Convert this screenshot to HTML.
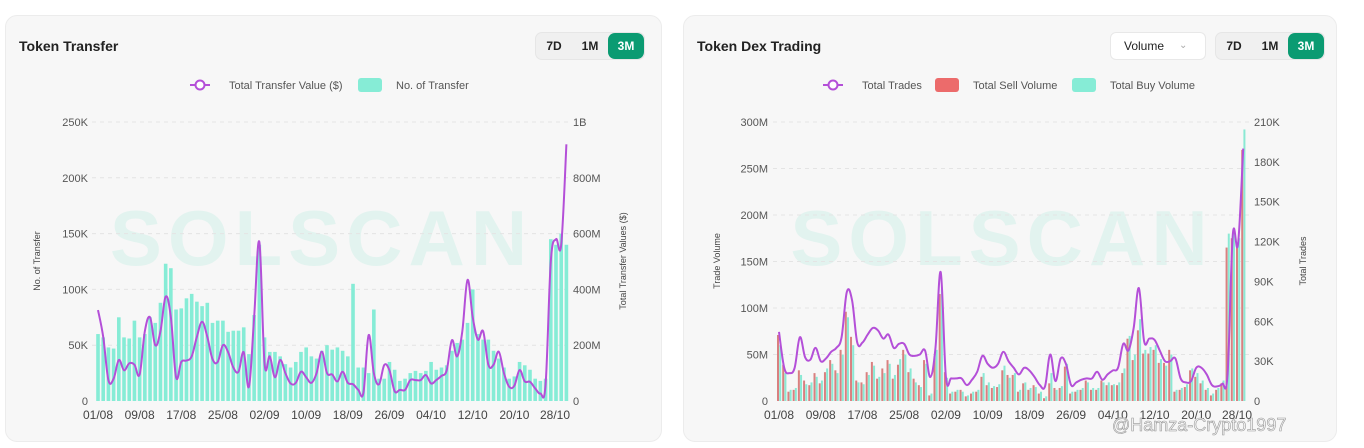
<!DOCTYPE html>
<html><head><meta charset="utf-8">
<style>
html,body{margin:0;padding:0;background:#fff;width:1364px;height:448px;overflow:hidden;font-family:"Liberation Sans",sans-serif;}
.card{position:absolute;top:15px;height:425px;background:#f7f7f7;border:1px solid #ececec;border-radius:12px;}
.title{position:absolute;top:22px;left:13px;font-size:14px;font-weight:bold;color:#222;}
.btns{position:absolute;top:16px;height:26px;display:flex;border-radius:7px;background:#f0f0f0;border:1px solid #e6e6e6;overflow:hidden;}
.btns div{width:36px;line-height:26px;text-align:center;font-size:12px;font-weight:bold;color:#222;}
.btns div.on{background:#0b9b72;color:#fff;border-radius:7px;}
.dd{position:absolute;top:16px;left:426px;width:94px;height:26px;background:#fff;border:1px solid #e8e8e8;border-radius:6px;font-size:12px;color:#222;line-height:26px;}
svg{position:absolute;left:0;top:0;}
</style></head><body>
<div class="card" style="left:5px;width:655px;">
  <div class="title">Token Transfer</div>
  <div class="btns" style="left:529px;">
    <div>7D</div>
    <div>1M</div>
    <div class="on">3M</div>
  </div>
</div>
<div class="card" style="left:683px;width:652px;">
  <div class="title">Token Dex Trading</div>
  <div class="dd"><span style="margin-left:13px">Volume</span><span style="position:absolute;left:68px;color:#aaa;font-size:10px">&#8964;</span></div>
  <div class="btns" style="left:531px;">
    <div>7D</div>
    <div>1M</div>
    <div class="on">3M</div>
  </div>
</div>
<svg id="chart" width="1364" height="448"></svg>
<script>
const dayLabels=["01/08","09/08","17/08","25/08","02/09","10/09","18/09","26/09","04/10","12/10","20/10","28/10"];
const leftTicks=["0","50K","100K","150K","200K","250K"];
const leftRightTicks=["0","200M","400M","600M","800M","1B"];
const rightTicks=["0","50M","100M","150M","200M","250M","300M"];
const rightRightTicks=["0","30K","60K","90K","120K","150K","180K","210K"];
const transferCount=[60,57,48,47,75,57,56,72,57,60,75,70,88,123,119,82,83,92,96,89,85,88,70,72,72,62,63,63,66,42,77,140,57,44,44,40,33,30,35,44,48,40,38,45,50,46,48,45,40,105,30,30,25,82,20,20,35,28,18,20,25,27,25,27,35,28,30,32,45,52,55,70,100,60,55,55,45,38,30,20,22,35,32,28,20,18,20,145,140,150,140];
const transferValue=[326,230,75,80,147,110,135,130,95,250,300,200,250,374,300,85,140,145,160,230,284,230,150,140,200,175,120,105,175,51,300,570,135,160,85,147,100,63,65,105,85,65,100,177,100,95,70,105,65,60,40,30,236,100,60,129,110,35,40,40,75,75,75,93,63,75,90,110,218,160,250,434,300,220,250,130,130,177,100,51,55,111,70,69,45,27,60,500,580,560,920];
const tradesK=[52,25,21,25,48,33,31,40,30,32,37,40,48,82,76,44,44,50,55,53,47,50,40,43,43,35,34,35,38,18,40,97,18,17,17,17,12,16,22,34,28,25,28,37,30,25,20,25,23,18,12,11,35,15,32,28,12,14,16,17,17,22,16,20,23,25,43,38,55,85,45,47,46,38,30,30,32,17,14,15,25,25,20,12,11,13,20,125,118,190];
const sellVol=[71,39,10,12,33,22,17,30,19,31,44,33,55,96,69,22,20,31,42,24,35,44,24,39,55,31,24,17,44,6,48,115,31,8,10,12,5,8,10,26,17,14,15,33,28,28,10,19,12,17,8,3,19,14,14,37,8,10,12,22,12,12,22,17,17,17,30,67,44,76,51,51,55,41,41,55,10,12,15,33,26,19,12,6,12,19,165,175,170,270];
const buyVol=[60,30,12,14,28,18,20,26,22,35,40,30,50,90,60,20,18,28,38,26,30,40,28,45,50,35,20,15,40,8,55,120,25,10,12,10,6,10,12,30,20,16,18,38,25,30,12,20,14,15,10,5,30,12,16,40,10,12,14,20,14,14,20,20,18,20,35,70,50,88,55,58,60,45,38,50,12,14,18,35,30,22,14,8,14,22,180,185,175,292];

const svg=document.getElementById('chart');
const NS='http://www.w3.org/2000/svg';
function mk(tag,attrs,parent){const e=document.createElementNS(NS,tag);for(const k in attrs)e.setAttribute(k,attrs[k]);(parent||svg).appendChild(e);return e;}
function txt(s,attrs){const e=mk('text',Object.assign({'font-size':11,fill:'#555','font-family':'Liberation Sans, sans-serif'},attrs));e.textContent=s;return e;}
function smooth(pts){let d='M'+pts[0][0]+','+pts[0][1];for(let i=0;i<pts.length-1;i++){const p0=pts[i-1]||pts[i],p1=pts[i],p2=pts[i+1],p3=pts[i+2]||p2;const t=0.18;d+=' C'+(p1[0]+(p2[0]-p0[0])*t)+','+(p1[1]+(p2[1]-p0[1])*t)+' '+(p2[0]-(p3[0]-p1[0])*t)+','+(p2[1]-(p3[1]-p1[1])*t)+' '+p2[0]+','+p2[1];}return d;}

function frame(o){
  // watermark
  const wm=txt('SOLSCAN',{x:o.x0+(o.x1-o.x0)/2-10,y:265,'font-size':78,'font-weight':'bold',fill:'#e2f3ef','text-anchor':'middle','letter-spacing':6});
  
  const n=o.lt.length;
  for(let i=0;i<n;i++){const y=o.yb-(o.yb-o.yt)*i/(n-1);
    if(i>0){const g=mk('line',{x1:o.x0-6,x2:o.x1+6,y1:y,y2:y,stroke:'#e4e4e4','stroke-dasharray':'4,4'});}
    const t=txt(o.lt[i],{x:o.lx,y:y+4,'text-anchor':'end'});}
  const m=o.rt.length;
  for(let i=0;i<m;i++){const y=o.yb-(o.yb-o.yt)*i/(m-1);const t=txt(o.rt[i],{x:o.rx,y:y+4});}
  dayLabels.forEach((s,i)=>{const x=o.xs(i*8)+(i==11?-1:0);const t=txt(s,{x:x,y:419,'text-anchor':'middle','font-size':12,fill:'#444'});});
  const a=txt(o.yl,{x:0,y:0,'font-size':9,fill:'#444','text-anchor':'middle',transform:'translate('+o.ylx+',261) rotate(-90)'});
  const b=txt(o.y2l,{x:0,y:0,'font-size':9,fill:'#444','text-anchor':'middle',transform:'translate('+o.y2lx+',261) rotate(-90)'});
}
// LEFT CHART
const L={x0:98,x1:565,yt:122,yb:401};
const lx=d=>L.x0+d*(556-98)/88;
const ly=v=>L.yb-(L.yb-L.yt)*v/250;
const ly2=v=>L.yb-(L.yb-L.yt)*v/1000;
frame({p:'left',x0:98,x1:565,yt:122,yb:401,lt:leftTicks,rt:leftRightTicks,lx:88,rx:573,xs:lx,yl:'No. of Transfer',y2l:'Total Transfer Values ($)',ylx:40,y2lx:626});
transferCount.forEach((v,i)=>{const r=mk('rect',{x:lx(i)-1.8,y:ly(v),width:3.6,height:L.yb-ly(v),fill:'#86ecd6'});});
const lp=mk('path',{d:smooth(transferValue.map((v,i)=>[lx(i),Math.max(ly2(v),118)])),fill:'none',stroke:'#b44fd8','stroke-width':2});

// left legend
mk('line',{x1:190,x2:210,y1:85,y2:85,stroke:'#b44fd8','stroke-width':2});
const lc=mk('circle',{cx:200,cy:85,r:4.5,fill:'#fff',stroke:'#b44fd8','stroke-width':2});
let t=txt('Total Transfer Value ($)',{x:229,y:89});
const lr=mk('rect',{x:358,y:78,width:24,height:14,rx:3,fill:'#86ecd6'});
t=txt('No. of Transfer',{x:396,y:89});

// RIGHT CHART
const R={x0:779,yt:122,yb:401};
const rx=d=>R.x0+d*(1238-779)/88;
const ry=v=>R.yb-(R.yb-R.yt)*v/300;
const ry2=v=>R.yb-(R.yb-R.yt)*v/210;
frame({p:'right',x0:779,x1:1245,yt:122,yb:401,lt:rightTicks,rt:rightRightTicks,lx:768,rx:1254,xs:rx,yl:'Trade Volume',y2l:'Total Trades',ylx:720,y2lx:1306});
buyVol.forEach((v,i)=>{const r=mk('rect',{x:rx(i)+0.2,y:ry(v),width:2,height:R.yb-ry(v),fill:'#8ae9d4'});});
sellVol.forEach((v,i)=>{const r=mk('rect',{x:rx(i)-2,y:ry(v),width:2,height:R.yb-ry(v),fill:'#d98080'});});
const rp=mk('path',{d:smooth(tradesK.map((v,i)=>[rx(i),ry2(v)])),fill:'none',stroke:'#b44fd8','stroke-width':2});

mk('line',{x1:823,x2:843,y1:85,y2:85,stroke:'#b44fd8','stroke-width':2});
const rc=mk('circle',{cx:833,cy:85,r:4.5,fill:'#fff',stroke:'#b44fd8','stroke-width':2});
t=txt('Total Trades',{x:862,y:89});
let s=mk('rect',{x:935,y:78,width:24,height:14,rx:3,fill:'#ec6b6b'});
t=txt('Total Sell Volume',{x:973,y:89});
s=mk('rect',{x:1072,y:78,width:24,height:14,rx:3,fill:'#86ecd6'});
t=txt('Total Buy Volume',{x:1110,y:89});
t=txt('@Hamza-Crypto1997',{x:1112,y:431,'font-size':18,fill:'#f4f4f4',stroke:'#9a9a9a','stroke-width':0.6});
</script>
</body></html>
